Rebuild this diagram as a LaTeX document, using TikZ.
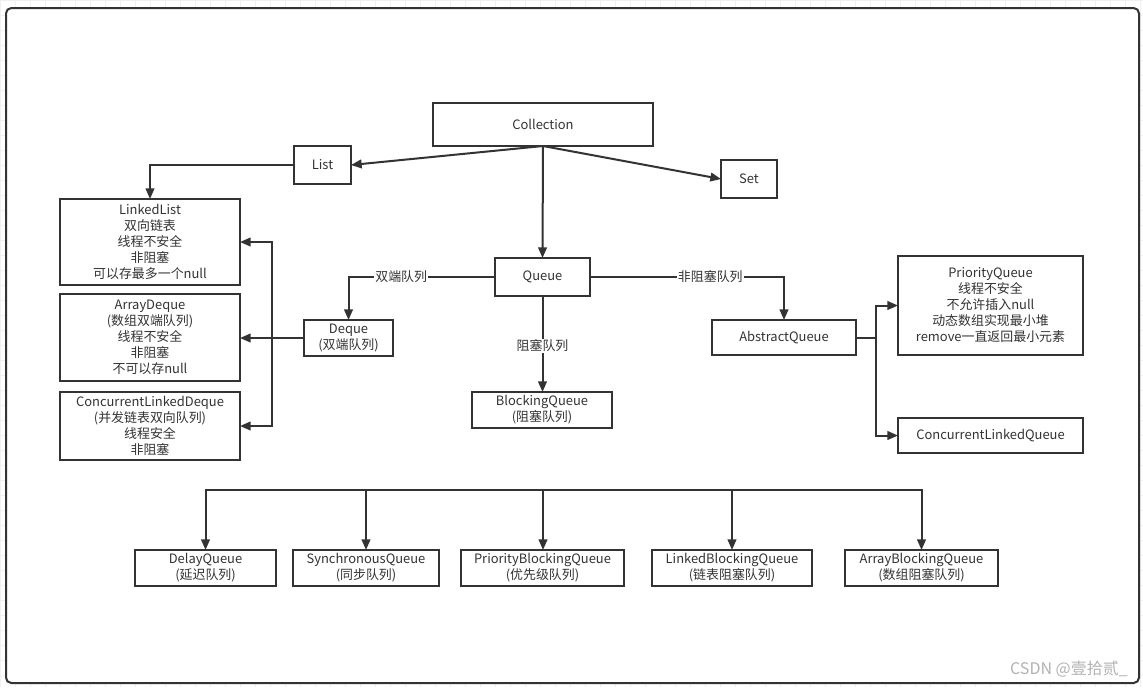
\documentclass[tikz,border=0pt]{standalone}
\usepackage{fontspec}
\setmainfont{Noto Sans CJK SC}
\usetikzlibrary{arrows.meta}
\definecolor{ln}{HTML}{333333}
\definecolor{tx}{HTML}{333333}
\tikzset{
  box/.style={draw=ln, line width=1.5pt, fill=white, inner sep=0pt, outer sep=0pt,
    align=center, text=tx, font=\fontsize{9.7}{12}\selectfont},
  arr/.style={draw=ln, line width=1.5pt, -{Triangle[length=8pt,width=6.5pt]}},
  plain/.style={draw=ln, line width=1.5pt},
  lbl/.style={fill=white, inner sep=1pt, text=tx, font=\fontsize{9.7}{12}\selectfont},
}
\begin{document}
\begin{tikzpicture}[x=0.75pt,y=-0.75pt]
\useasboundingbox (0,0) rectangle (1143,687);
\fill[white] (0,0) rectangle (1143,687);
\draw[gray!12, line width=0.5pt] (0,0) grid[step=15*0.75pt] (1143,687);
\draw[ln, line width=1.5pt, fill=white, rounded corners=4pt] (6,8) rectangle (1139,683);

\node[box, minimum width=165pt, minimum height=32.25pt] (coll) at (543,124.5) {Collection};
\node[box, minimum width=42.75pt, minimum height=28.5pt] (list) at (322.5,165) {List};
\node[box, minimum width=42pt, minimum height=28.5pt] (set) at (749,179) {Set};
\node[box, minimum width=135pt, minimum height=64.5pt] (ll) at (150,242) {LinkedList\\双向链表\\线程不安全\\非阻塞\\可以存最多一个null};
\node[box, minimum width=135pt, minimum height=65.25pt] (ad) at (150,337.5) {ArrayDeque\\(数组双端队列)\\线程不安全\\非阻塞\\不可以存null};
\node[box, minimum width=135pt, minimum height=51pt] (cld) at (150,426) {ConcurrentLinkedDeque\\(并发链表双向队列)\\线程安全\\非阻塞};
\node[box, minimum width=66.75pt, minimum height=27pt] (deque) at (348.5,338) {Deque\\(双端队列)};
\node[box, minimum width=71.25pt, minimum height=28.5pt] (queue) at (542.5,277) {Queue};
\node[box, minimum width=108pt, minimum height=26.25pt] (aq) at (784,337.5) {AbstractQueue};
\node[box, minimum width=138.75pt, minimum height=74.25pt] (pq) at (990.5,305.5) {PriorityQueue\\线程不安全\\不允许插入null\\动态数组实现最小堆\\remove一直返回最小元素};
\node[box, minimum width=138.75pt, minimum height=26.25pt] (clq) at (990.5,435.5) {ConcurrentLinkedQueue};
\node[box, minimum width=105pt, minimum height=27pt] (bq) at (542,410) {BlockingQueue\\(阻塞队列)};
\node[box, minimum width=105.75pt, minimum height=27pt] (dq) at (205.5,568) {DelayQueue\\(延迟队列)};
\node[box, minimum width=109.5pt, minimum height=27pt] (sq) at (366,568) {SynchronousQueue\\(同步队列)};
\node[box, minimum width=122.25pt, minimum height=27pt] (pbq) at (542.5,568) {PriorityBlockingQueue\\(优先级队列)};
\node[box, minimum width=120pt, minimum height=27pt] (lbq) at (732,568) {LinkedBlockingQueue\\(链表阻塞队列)};
\node[box, minimum width=114.75pt, minimum height=27pt] (abq) at (921.5,568) {ArrayBlockingQueue\\(数组阻塞队列)};

\coordinate (top) at (543,146);
\draw[arr] (top) -- (list.east);
\draw[arr] (top) -- (set.west);
\draw[arr] (top) -- (queue.north);
\draw[arr] (list.west) -| (ll.north);

\draw[arr] (queue.west) -| node[lbl, pos=0.32] {双端队列} (deque.north);
\draw[arr] (queue.east) -| node[lbl, pos=0.31] {非阻塞队列} (aq.north);
\draw[arr] (queue.south) -- node[lbl, pos=0.52] {阻塞队列} (bq.north -| queue.south);

\coordinate (dj) at (272,338);
\draw[arr] (deque.west) -- (deque.west -| ad.east);
\draw[arr] (dj) |- (ll.east);
\draw[arr] (dj) |- (cld.east);

\coordinate (aj) at (876,337.5);
\draw[plain] (aq.east) -- (aj);
\draw[arr] (aj) |- (pq.west);
\draw[arr] (aj) |- (clq.west);

\coordinate (bus) at (543,490);
\draw[plain] (bus -| bq.south) -- (bus);
\draw[arr] (bus) -| (dq.north);
\draw[arr] (bus) -| (sq.north);
\draw[arr] (bus) -- (pbq.north -| bus);
\draw[arr] (bus) -| (lbq.north);
\draw[arr] (bus) -| (abq.north);

\node[anchor=east, text=gray!60, font=\fontsize{12}{14}\selectfont, inner sep=0pt] (wm) at (1128,669) {CSDN @壹拾贰\_};
\end{tikzpicture}
\end{document}
